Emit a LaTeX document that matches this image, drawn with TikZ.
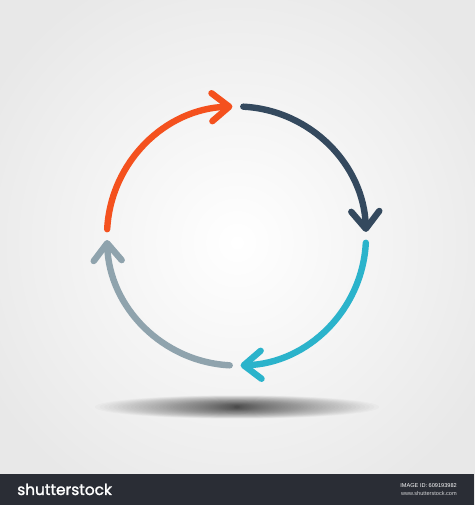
\documentclass[tikz,border=0pt]{standalone}
\usepackage{fontspec}
\setmainfont{Liberation Sans}
\newfontfamily\logofont{Poppins}[FakeBold=1.5]
\usetikzlibrary{arrows.meta,calc}
\definecolor{cOrange}{HTML}{F4511E}
\definecolor{cNavy}{HTML}{34495E}
\definecolor{cTeal}{HTML}{2BB3CB}
\definecolor{cGrey}{HTML}{8FA3AD}
\definecolor{cBar}{HTML}{2A2D35}
\definecolor{cEdge}{HTML}{E8E8E8}
\begin{document}
\begin{tikzpicture}[x=0.75pt,y=0.75pt,
  ring/.style={line width=4.8pt, line cap=round,
    -{Straight Barb[length=13pt,width=21pt,round]}},
  bartext/.style={text=white, inner sep=0pt}]
\useasboundingbox (0,0) rectangle (474,505);
% background
\shade[inner color=white, outer color=cEdge] (-50,-30) rectangle (524,555);
% shadow
\foreach \k in {1,...,50}{
  \pgfmathsetmacro\ra{145*(1-\k/51)^1.7+2}
  \pgfmathsetmacro\rb{11*(1-\k/51)^1.2+1}
  \fill[black, opacity=0.021] (237,98) ellipse ({\ra} and {\rb});
}
% ring
\coordinate (C) at (236.5,269);
\coordinate (o1) at ($(C)+(177:129.5)$);
\draw[ring, cOrange] (o1) arc[start angle=177, end angle=91.8, radius=129.5] coordinate (o2);
\coordinate (n1) at ($(C)+(87:129.5)$);
\draw[ring, cNavy] (n1) arc[start angle=87, end angle=1.8, radius=129.5] coordinate (n2);
\coordinate (t1) at ($(C)+(-3:129.5)$);
\draw[ring, cTeal] (t1) arc[start angle=-3, end angle=-88.2, radius=129.5] coordinate (t2);
\coordinate (g1) at ($(C)+(267:129.5)$);
\draw[ring, cGrey] (g1) arc[start angle=267, end angle=181.8, radius=129.5] coordinate (g2);
% bottom bar
\fill[cBar] (0,0) rectangle (474,31);
\node[bartext, anchor=base west, font=\logofont\fontsize{11.5}{12}\selectfont] (logo) at (17,10) {shutterstock};
\node[bartext, anchor=base east, font=\fontsize{4.2}{5}\selectfont] (imgid) at (457,17) {IMAGE ID: 609193982};
\node[bartext, anchor=base east, font=\fontsize{4.2}{5}\selectfont, text=white!80!cBar] (www) at (457,9.5) {www.shutterstock.com};
\end{tikzpicture}
\end{document}
